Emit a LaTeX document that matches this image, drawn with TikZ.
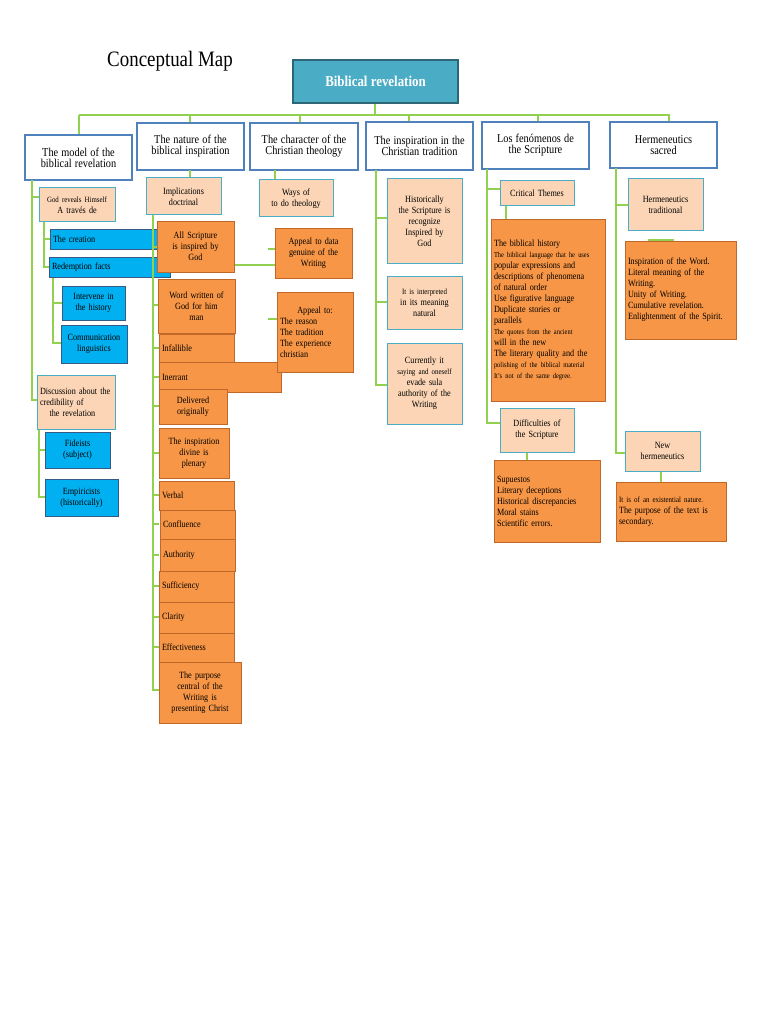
\documentclass[tikz,border=0pt]{standalone}
\usepackage{fontspec}
\setmainfont{Liberation Serif}[FakeStretch=0.86]
\usetikzlibrary{fit}
\definecolor{gr}{HTML}{92D050}
\definecolor{hb}{HTML}{4F81BD}
\definecolor{pe}{HTML}{FBD5B5}
\definecolor{pb}{HTML}{4BACC6}
\definecolor{og}{HTML}{F79646}
\definecolor{ob}{HTML}{C0672A}
\definecolor{cy}{HTML}{00B0F0}
\definecolor{teal}{HTML}{4BACC6}
\tikzset{
 x=1pt,y=-1pt,
 box/.style={inner sep=0pt,draw,line width=1pt},
 head/.style={box,fill=white,draw=hb,line width=2pt},
 peach/.style={box,fill=pe,draw=pb},
 orange/.style={box,fill=og,draw=ob,line width=0.8pt},
 blue/.style={box,fill=cy,draw=hb!70!black,line width=0.8pt},
 conn/.style={draw=gr,line width=2.2pt},
 txt/.style={inner sep=0pt,font=\fontsize{9.5}{11}\selectfont},
}
\newcommand\bx[8][center]{%
 \pgfmathsetmacro\tw{#5-#3-6}%
 \node[#7,fit={(#3,#4)(#5,#6)}] (#2) {};%
 \node[txt,align=#1,text width=\tw pt] at (#2.center) {#8};}
\begin{document}
\begin{tikzpicture}
\useasboundingbox (0,0) rectangle (768,1024);
\fill[white] (0,0) rectangle (768,1024);
\node[font=\fontsize{22}{24}\selectfont] (title) at (170,61) {Conceptual Map};
% tree connectors (drawn first)
\coordinate (top) at (375,115);
\draw[conn] (79,115) -- (670,115);
\draw[conn] (375,103) -- (top);
\foreach \x/\y in {79/135,190/123,300/123,409/122,538/122,669/122}{\draw[conn] (\x,115) -- (\x,\y);}
% root
\node[box,fill=teal,draw=teal!60!black,line width=1.5pt,fit={(293,60)(458,103)},inner sep=0] (root) {};
\node[txt,text=white,font=\bfseries\fontsize{15}{17}\selectfont] at (root.center) {Biblical revelation};
% headers
\bx{h1}{25}{135}{132}{180}{head}{\fontsize{12}{15}\selectfont The model of the\\biblical revelation}
\bx{h2}{137}{123}{244}{170}{head}{\fontsize{12}{15}\selectfont The nature of the\\biblical inspiration}
\bx{h3}{250}{123}{358}{170}{head}{\fontsize{12}{15}\selectfont The character of the\\Christian theology}
\bx{h4}{366}{122}{473}{170}{head}{\fontsize{12}{15}\selectfont The inspiration in the\\Christian tradition}
\bx{h5}{482}{122}{589}{169}{head}{\fontsize{12}{15}\selectfont Los fenómenos de\\the Scripture}
\bx{h6}{610}{122}{717}{168}{head}{\fontsize{12}{15}\selectfont Hermeneutics\\sacred}
% column 1 connectors
\draw[conn] (32,180) -- (32,400) -- (37,400);
\draw[conn] (32,197) -- (39,197);
\draw[conn] (44,222) -- (44,267) -- (49,267);
\draw[conn] (44,239) -- (50,239);
\draw[conn] (53,277) -- (53,343) -- (61,343);
\draw[conn] (53,303) -- (62,303);
\draw[conn] (39,429) -- (39,497) -- (45,497);
\draw[conn] (39,450) -- (45,450);
% column 1 boxes
\bx{god}{39}{188}{115}{222}{peach}{{\fontsize{8}{10}\selectfont God reveals Himself}\\A través de}
\bx[left]{crea}{50}{229}{160}{249}{blue}{The creation}
\bx[left]{rede}{49}{257}{170}{277}{blue}{Redemption facts}
\bx{inte}{62}{286}{125}{320}{blue}{Intervene in\\the history}
\bx{comm}{61}{325}{127}{363}{blue}{Communication\\linguistics}
\bx[left]{disc}{37}{375}{115}{429}{peach}{Discussion about the\\credibility of\\\quad the revelation}
\bx{fide}{45}{432}{110}{468}{blue}{Fideists\\(subject)}
\bx{empi}{45}{479}{118}{516}{blue}{Empiricists\\(historically)}
% column 2
\draw[conn] (190,170) -- (190,178);
\draw[conn] (153,215) -- (153,690) -- (159,690);
\foreach \y in {247,305,348,377,406,453,495,524,555,586,617,647}{\draw[conn] (153,\y) -- (159,\y);}
\draw[conn] (228,265) -- (275,265);
\bx{impl}{146}{178}{221}{215}{peach}{Implications\\doctrinal}
\bx{all}{157}{221}{234}{272}{orange}{All Scripture\\is inspired by\\God}
\bx{word}{158}{279}{235}{333}{orange}{Word written of\\God for him\\man}
\bx[left]{infa}{159}{334}{234}{362}{orange}{Infallible}
\bx[left]{iner}{159}{362}{281}{392}{orange}{Inerrant}
\bx{deli}{159}{389}{227}{424}{orange}{Delivered\\originally}
\bx{plen}{159}{428}{229}{478}{orange}{The inspiration\\divine is\\plenary}
\bx[left]{verb}{159}{481}{234}{510}{orange}{Verbal}
\bx[left]{conf}{160}{510}{235}{539}{orange}{Confluence}
\bx[left]{auth}{160}{539}{235}{571}{orange}{Authority}
\bx[left]{suff}{159}{571}{234}{602}{orange}{Sufficiency}
\bx[left]{clar}{159}{602}{234}{633}{orange}{Clarity}
\bx[left]{effe}{159}{633}{234}{662}{orange}{Effectiveness}
\bx{purp}{159}{662}{241}{723}{orange}{The purpose\\central of the\\Writing is\\presenting Christ}
% column 3
\draw[conn] (275,170) -- (275,180);
\draw[conn] (268,249) -- (275,249);
\draw[conn] (268,319) -- (277,319);
\bx{ways}{259}{180}{333}{217}{peach}{Ways of\\to do theology}
\bx{data}{275}{228}{352}{278}{orange}{Appeal to data\\genuine of the\\Writing}
\bx[left]{appe}{277}{292}{353}{372}{orange}{\hfill Appeal to:\hfill\null\\The reason\\The tradition\\The experience\\christian}
% column 4
\draw[conn] (376,170) -- (376,385) -- (387,385);
\draw[conn] (376,218) -- (387,218);
\draw[conn] (376,302) -- (387,302);
\bx{hist}{387}{179}{462}{263}{peach}{Historically\\the Scripture is\\recognize\\Inspired by\\God}
\bx{inter}{387}{276}{462}{329}{peach}{{\fontsize{8}{10}\selectfont It is interpreted}\\in its meaning\\natural}
\bx{curr}{387}{343}{462}{424}{peach}{Currently it\\{\fontsize{8}{10}\selectfont saying and oneself}\\evade sula\\authority of the\\Writing}
% column 5
\draw[conn] (487,169) -- (487,423) -- (500,423);
\draw[conn] (487,189) -- (500,189);
\draw[conn] (506,206) -- (506,219);
\draw[conn] (527,452) -- (527,460);
\bx{crit}{500}{181}{574}{206}{peach}{Critical Themes}
\bx[left]{bhis}{491}{219}{605}{401}{orange}{The biblical history\\{\fontsize{7.5}{9}\selectfont The biblical language that he uses}\\popular expressions and\\descriptions of phenomena\\of natural order\\Use figurative language\\Duplicate stories or\\parallels\\{\fontsize{7.5}{9}\selectfont The quotes from the ancient}\\will in the new\\The literary quality and the\\{\fontsize{7.5}{9}\selectfont polishing of the biblical material}\\{\fontsize{7.5}{9}\selectfont It's not of the same degree.}}
\bx{diff}{500}{408}{574}{452}{peach}{Difficulties of\\the Scripture}
\bx[left]{supu}{494}{460}{600}{542}{orange}{Supuestos\\Literary deceptions\\Historical discrepancies\\Moral stains\\Scientific errors.}
% column 6
\draw[conn] (616,168) -- (616,453) -- (625,453);
\draw[conn] (616,205) -- (628,205);
\draw[conn] (648,240) -- (674,240);
\draw[conn] (661,471) -- (661,482);
\bx{htra}{628}{179}{703}{231}{peach}{Hermeneutics\\traditional\\[12pt]}
\bx[left]{insp}{625}{241}{736}{339}{orange}{Inspiration of the Word.\\Literal meaning of the\\Writing.\\Unity of Writing.\\Cumulative revelation.\\Enlightenment of the Spirit.\\[10pt]}
\bx{newh}{625}{431}{700}{471}{peach}{New\\hermeneutics}
\bx[left]{exis}{616}{482}{726}{541}{orange}{{\fontsize{8}{10}\selectfont It is of an existential nature.}\\The purpose of the text is\\secondary.\\[8pt]}
\end{tikzpicture}
\end{document}
